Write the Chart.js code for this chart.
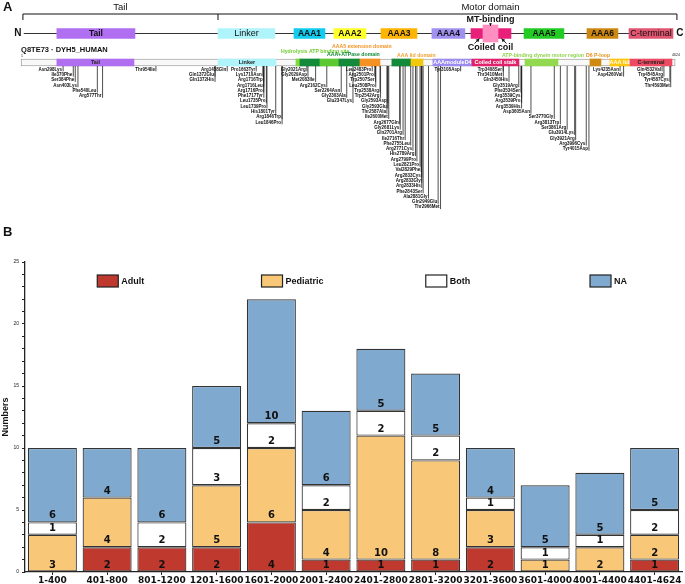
<!DOCTYPE html>
<html>
<head>
<meta charset="utf-8">
<script src="https://cdn.jsdelivr.net/npm/chart.js@4.4.0/dist/chart.umd.min.js"></script>
<style>
  body { margin: 0; background: #fff; width: 685px; height: 584px; position: relative; overflow: hidden; }
  .wrap { position: absolute; left: 0; width: 685px; }
  #wrapA { top: 0; height: 250px; }
  #wrapB { top: 250px; height: 334px; }
  .panel { position: absolute; left: 3px; font: bold 13px "Liberation Sans", Arial, sans-serif; color: #111; }
</style>
</head>
<body>
<div class="wrap" id="wrapA"><canvas id="chartA" width="685" height="250"></canvas></div>
<div class="wrap" id="wrapB"><canvas id="chartB" width="685" height="334"></canvas></div>
<div class="panel" style="top:-1px">A</div>
<div class="panel" style="top:224px">B</div>
<script>
/* ========================
   Dados - Painel B
   ======================== */
const regions = ["1-400", "401-800", "801-1200", "1201-1600", "1601-2000", "2001-2400",
                 "2401-2800", "2801-3200", "3201-3600", "3601-4000", "4001-4400", "4401-4624"];
const adult     = [0, 2, 2, 2, 4, 1, 1, 1, 2, 0, 0, 1];
const pediatric = [3, 4, 0, 5, 6, 4, 10, 8, 3, 1, 2, 2];
const both      = [1, 0, 2, 3, 2, 2, 2, 2, 1, 1, 1, 2];
const na        = [6, 4, 6, 5, 10, 6, 5, 5, 4, 5, 5, 5];
const seriesNames = ["Adult", "Pediatric", "Both", "NA"];
const yTickLabels = [0, 5, 10, 15, 20, 25];

/* ========================
   Dados - Painel A (resíduos)
   ======================== */
const proteinLength = 4624;
const overviewNames = ["Tail", "Linker", "AAA1", "AAA2", "AAA3", "AAA4", "Coiled coil", "AAA5", "AAA6", "C-terminal"];
const overviewStart = [254, 1393, 1930, 2212, 2545, 2905, 3181, 3556, 4001, 4298];
const overviewEnd   = [806, 1795, 2149, 2439, 2799, 3138, 3464, 3838, 4220, 4609];
const mtBinding = [3266, 3372];
const trackNames = ["Tail", "Linker", "", "", "", "", "", "", "", "AAAmoduleD4", "Coiled coil stalk", "", "", "AAA lid", "C-terminal"];
const trackStart = [254, 1393, 1944, 1972, 2113, 2248, 2396, 2622, 2757, 2912, 3188, 3563, 4022, 4163, 4305];
const trackEnd   = [799, 1802, 1972, 2113, 2248, 2396, 2538, 2757, 2842, 3188, 3520, 3796, 4100, 4298, 4602];
const featureNames = ["AAA5 extension domain", "Hydrolysis ATP binding site", "AAA+ATPase domain",
                      "AAA lid domain", "ATP-binding dynein motor region", "D6 P-loop"];
const featureStart = [2198, 1838, 2163, 2658, 3400, 3994];
// mutações na ordem em que aparecem em cada escada de rótulos
const mutations = [
  "Asn298Lys", "Ile370Phe", "Ser384Phe", "Asn403Lys", "Phe540Leu", "Arg577Thr", "Thr954Ile",
  "Arg1458Gln", "Gln1372Glu", "Gln1372His", "Pro1663Tyr", "Lys1710Asn", "Arg1716Trp", "Arg1716Leu",
  "Arg1716Pro", "Phe1717Tyr", "Leu1735Pro", "Leu1739Pro", "His1801Tyr", "Arg1846Trp", "Leu1846Pro",
  "Gly2021Arg", "Gly2029Asp", "Met2083Ile", "Arg2162Cys", "Ser2264Asn", "Gly2303Ala", "Glu2347Lys",
  "Leu2483Pro", "Arg2501Pro", "Trp2507Ser", "Leu2508Pro", "Trp2538Arg", "Trp2542Arg", "Gly2593Asp",
  "Gly2593Glu", "Thr2587Ala", "Ile2600Met", "Arg2677Gln", "Gly2681Lys", "Gln2701Arg", "Ile2716Thr",
  "Phe2755Leu", "Arg2771Cys", "His2789Arg", "Arg2799Pro", "Leu2821Pro", "Val2829Phe", "Arg2833Cys",
  "Arg2833Gly", "Arg2833His", "Phe2843Ser", "Ala2881Gly", "Gln2949Glu", "Thr2966Met",
  "Tyr3108Asp", "Trp3408Ser", "Thr3410Met", "Gln3450His", "Gly3519Arg", "Phe3534Ser", "Arg3539Cys",
  "Arg3539Pro", "Arg3539His", "Asp3605Asn", "Ser3770Gly", "Arg3813Trp", "Ser3861Arg", "Glu3914Lys",
  "Gly3921Arg", "Arg3996Cys", "Tyr4015Asp", "Lys4235Asn", "Asp4260Val", "Gln4532Val", "Trp4545Arg",
  "Tyr4587Cys", "Thr4593Met"
];
// primeiro rótulo de cada escada
const cascadeStarts = ["Asn298Lys", "Thr954Ile", "Arg1458Gln", "Pro1663Tyr", "Gly2021Arg", "Leu2483Pro",
                       "Tyr3108Asp", "Trp3408Ser", "Lys4235Asn", "Gln4532Val"];

/* ========================
   Estilos
   ======================== */
const seriesColors = ["#c0392f", "#f8c777", "#ffffff", "#7fa9cf"];
const overviewColors = ["#b06ef0", "#aef4fa", "#11ccee", "#ffff2a", "#ffb400", "#a090f0", "#e8207a", "#22cc22", "#cc8811", "#e05570"];
const overviewBold = [true, false, true, true, true, true, true, true, true, false];
const trackColors = ["#b06ef0", "#aef4fa", "#7ddc3c", "#138a3a", "#5cc832", "#138a3a", "#f39222", "#138a3a",
                     "#f2c80f", "#9d8cf0", "#e0226a", "#92d94f", "#cf8a12", "#ffc60a", "#ee4a63"];
const trackTextColors = { "Tail": "#222", "Linker": "#222", "AAAmoduleD4": "#fff", "Coiled coil stalk": "#fff", "AAA lid": "#fff", "C-terminal": "#222" };
const featureColors = ["#f39222", "#6ccc2c", "#138a3a", "#f0a030", "#8fd34a", "#e8901a"];
const featureDy = [-15.5, -11, -7.5, -7, -6.5, -6.5];
const SANS = '"Liberation Sans", Arial, sans-serif';
const NARROW = '"Liberation Sans Narrow", "Liberation Sans", Arial, sans-serif';

// posição do resíduo a partir do nome (ex.: Arg2677Gln -> 2677)
const resPos = m => parseInt(m.match(/\d+/)[0], 10);

function arrow(ctx, x1, y1, x2, y2, h) {
    const a = Math.atan2(y2 - y1, x2 - x1);
    ctx.beginPath(); ctx.moveTo(x1, y1); ctx.lineTo(x2, y2); ctx.stroke();
    ctx.beginPath();
    ctx.moveTo(x2, y2);
    ctx.lineTo(x2 - h * Math.cos(a - 0.5), y2 - h * Math.sin(a - 0.5));
    ctx.lineTo(x2 - h * Math.cos(a + 0.5), y2 - h * Math.sin(a + 0.5));
    ctx.closePath(); ctx.fill();
}

/* ========================
   Plugin - Painel A (textos, linhas, mutações)
   ======================== */
const panelA = {
    id: "panelA",
    beforeDatasetsDraw(chart) {
        const { ctx, scales: { x, y } } = chart;
        const yd = y.getPixelForValue(0);
        ctx.save();
        ctx.strokeStyle = "#333"; ctx.lineWidth = 1;
        ctx.beginPath(); ctx.moveTo(x.getPixelForValue(20), yd); ctx.lineTo(x.getPixelForValue(4600), yd); ctx.stroke();
        ctx.restore();
    },
    afterDraw(chart) {
        const { ctx, scales: { x, y } } = chart;
        const yd = y.getPixelForValue(0);
        const yt = y.getPixelForValue(1);
        ctx.save();
        ctx.fillStyle = "#111"; ctx.strokeStyle = "#111";

        // chave Tail / Motor domain
        const by = yd - 19.5;
        ctx.lineWidth = 1;
        ctx.beginPath();
        ctx.moveTo(x.getPixelForValue(14), by + 6); ctx.lineTo(x.getPixelForValue(14), by);
        ctx.lineTo(x.getPixelForValue(4637), by); ctx.lineTo(x.getPixelForValue(4637), by + 6);
        ctx.moveTo(x.getPixelForValue(overviewStart[1]), by); ctx.lineTo(x.getPixelForValue(overviewStart[1]), by + 6);
        ctx.stroke();
        ctx.font = "9.5px " + SANS; ctx.textAlign = "center"; ctx.textBaseline = "middle";
        ctx.fillText("Tail", x.getPixelForValue((14 + overviewStart[1]) / 2), 7);
        const mtMid = (mtBinding[0] + mtBinding[1]) / 2;
        ctx.fillText("Motor domain", x.getPixelForValue(mtMid), 7);

        // N / C
        ctx.font = "bold 10px " + SANS;
        ctx.fillText("N", x.getPixelForValue(-22), yd);
        ctx.fillText("C", x.getPixelForValue(4658), yd);

        // nomes dos domínios
        overviewNames.forEach((n, i) => {
            if (n === "Coiled coil") return;
            ctx.font = (overviewBold[i] ? "bold 8.5px " : "9px ") + SANS;
            ctx.fillText(n, x.getPixelForValue((overviewStart[i] + overviewEnd[i]) / 2), yd + 0.5);
        });

        // MT-binding e Coiled coil
        const mx = x.getPixelForValue(mtMid);
        ctx.font = "bold 9px " + SANS;
        ctx.fillText("MT-binding", mx, yd - 13.5);
        arrow(ctx, mx, yd - 10, mx, yd - 7.5, 3);
        ctx.fillText("Coiled coil", mx, yd + 14.5);
        ctx.lineWidth = 0.9;
        arrow(ctx, mx - 16, yd + 10, mx - 11, yd + 5, 4);
        arrow(ctx, mx + 16, yd + 10, mx + 11, yd + 5, 4);

        // cabeçalho da trilha
        ctx.textAlign = "left";
        ctx.font = "bold 7.5px " + SANS;
        ctx.fillText("Q8TE73 · DYH5_HUMAN", x.getPixelForValue(1), yt - 12.5);
        ctx.font = "3.5px " + SANS;
        ctx.fillText("1", x.getPixelForValue(1), yt - 6);
        ctx.fillText(String(proteinLength), x.getPixelForValue(proteinLength) - 3, yt - 7);

        // anotações acima da trilha
        ctx.font = "bold 5.2px " + SANS;
        featureNames.forEach((f, i) => {
            ctx.fillStyle = featureColors[i];
            ctx.fillText(f, x.getPixelForValue(featureStart[i]), yt + featureDy[i]);
        });

        // rótulos dentro da trilha
        ctx.textAlign = "center";
        ctx.font = "bold 5.5px " + SANS;
        trackNames.forEach((n, i) => {
            if (!n) return;
            ctx.fillStyle = trackTextColors[n] || "#222";
            ctx.fillText(n, x.getPixelForValue((trackStart[i] + trackEnd[i]) / 2), yt + 0.3);
        });

        // mutações: linha guia + rótulo em escada
        const rowStep = 5.3, row0 = yt + 6.8, squeeze = 0.9;
        ctx.font = "bold 5px " + SANS;
        let row = 0;
        mutations.forEach(m => {
            row = cascadeStarts.includes(m) ? 0 : row + 1;
            const px = x.getPixelForValue(resPos(m));
            const ry = row0 + row * rowStep;
            ctx.strokeStyle = "#222"; ctx.lineWidth = 0.8;
            ctx.beginPath(); ctx.moveTo(px, yt + 3.5); ctx.lineTo(px, ry + 2); ctx.stroke();
            ctx.save();
            ctx.translate(px - 1, ry);
            ctx.scale(squeeze, 1);
            ctx.fillStyle = "#111"; ctx.textAlign = "right"; ctx.textBaseline = "middle";
            ctx.fillText(m, 0, 0);
            ctx.restore();
        });
        ctx.restore();
    }
};

/* ========================
   Gráfico A - domínios
   ======================== */
new Chart(document.getElementById("chartA"), {
    type: "bar",
    data: {
        labels: ["overview", "track"],
        datasets: [
            {
                data: [{ x: mtBinding, y: "overview" }],
                backgroundColor: "#ff8fc0", barThickness: 17, grouped: false, order: 0
            },
            {
                data: overviewNames.map((n, i) => ({ x: [overviewStart[i], overviewEnd[i]], y: "overview" })),
                backgroundColor: overviewColors, barThickness: 10, grouped: false, order: 1
            },
            {
                data: trackNames.map((n, i) => ({ x: [trackStart[i], trackEnd[i]], y: "track" })),
                backgroundColor: trackColors, barThickness: 7, grouped: false, order: 2
            },
            {
                data: [{ x: [1, proteinLength], y: "track" }],
                backgroundColor: "#f8f8f8", borderColor: "#888", borderWidth: 0.8, borderSkipped: false,
                barThickness: 7, grouped: false, order: 3
            }
        ]
    },
    options: {
        indexAxis: "y",
        responsive: false,
        animation: false,
        layout: { padding: { top: 19, bottom: 173, left: 0, right: 0 } },
        plugins: { legend: { display: false }, tooltip: { enabled: false } },
        scales: {
            x: { type: "linear", min: -148, max: 4694, display: false },
            y: { type: "category", display: false }
        }
    },
    plugins: [panelA]
});

/* ========================
   Plugins - Painel B
   ======================== */
const valueLabels = {
    id: "valueLabels",
    afterDatasetsDraw(chart) {
        const { ctx, scales: { y } } = chart;
        ctx.save();
        ctx.font = 'bold 10px "DejaVu Sans", sans-serif';
        ctx.fillStyle = "#111"; ctx.textAlign = "center"; ctx.textBaseline = "middle";
        const base = regions.map(() => 0);
        chart.data.datasets.forEach((ds, d) => {
            const meta = chart.getDatasetMeta(d);
            ds.data.forEach((v, i) => {
                if (v > 0) ctx.fillText(String(v), meta.data[i].x, y.getPixelForValue(base[i]) - 6.5);
                base[i] += v;
            });
        });
        ctx.restore();
    }
};

const seriesLegend = {
    id: "seriesLegend",
    afterDraw(chart) {
        const { ctx, chartArea: { left, top, width } } = chart;
        ctx.save();
        chart.data.datasets.forEach((ds, i) => {
            const bx = left + width * (0.11 + 0.25 * i);
            const by = top + 13;
            ctx.fillStyle = ds.backgroundColor; ctx.fillRect(bx, by, 21, 12);
            ctx.strokeStyle = "#222"; ctx.lineWidth = 1.2; ctx.strokeRect(bx, by, 21, 12);
            ctx.fillStyle = "#111";
            ctx.font = "bold 9px " + NARROW;
            ctx.textAlign = "left"; ctx.textBaseline = "middle";
            ctx.fillText(ds.label, bx + 24, by + 6.5);
        });
        ctx.restore();
    }
};

/* ========================
   Gráfico B - barras empilhadas
   ======================== */
const seriesValues = [adult, pediatric, both, na];
new Chart(document.getElementById("chartB"), {
    type: "bar",
    data: {
        labels: regions,
        datasets: seriesNames.map((n, i) => ({
            label: n,
            data: seriesValues[i],
            backgroundColor: seriesColors[i],
            borderColor: "#333",
            borderWidth: 1.2,
            borderSkipped: false,
            barPercentage: 0.895,
            categoryPercentage: 1
        }))
    },
    options: {
        responsive: false,
        animation: false,
        layout: { padding: { top: 12, right: 3, left: 0, bottom: 0 } },
        plugins: { legend: { display: false }, tooltip: { enabled: false } },
        scales: {
            x: {
                stacked: true,
                afterFit(scale) { scale.height = 12; },
                border: { color: "#222", width: 1.3 },
                grid: { drawOnChartArea: false, offset: false, tickLength: 3, color: "#222" },
                ticks: {
                    color: "#111", padding: 0, maxRotation: 0, minRotation: 0, autoSkip: false,
                    font: { family: '"DejaVu Sans", sans-serif', weight: "bold", size: 9 }
                }
            },
            y: {
                stacked: true,
                min: 0, max: 25,
                afterFit(scale) { scale.width = 25; },
                border: { color: "#222", width: 1.3 },
                grid: { drawOnChartArea: false, tickLength: 3, color: "#222" },
                title: {
                    display: true, text: "Numbers", color: "#111", padding: 0,
                    font: { family: NARROW, weight: "bold", size: 9 }
                },
                ticks: {
                    stepSize: 1, autoSkip: false, padding: 3, color: "#222",
                    font: { family: SANS, size: 5 },
                    callback: v => yTickLabels.includes(v) ? String(v) : ""
                }
            }
        }
    },
    plugins: [valueLabels, seriesLegend]
});
</script>
</body>
</html>
